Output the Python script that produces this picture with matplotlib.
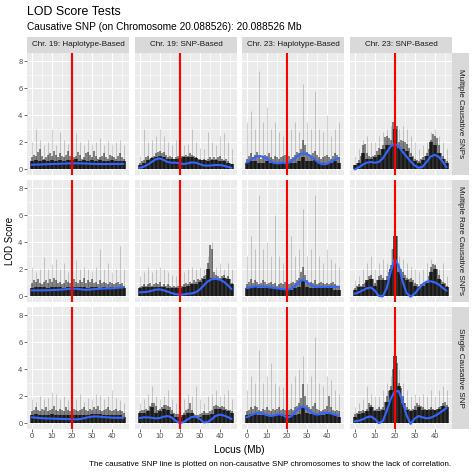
import matplotlib
matplotlib.use("Agg")
import matplotlib.pyplot as plt
from matplotlib.ticker import MultipleLocator

plt.rcParams['font.family'] = ['Liberation Sans', 'DejaVu Sans']

# ---------------- data ----------------
col_labels = ["Chr. 19: Haplotype-Based", "Chr. 19: SNP-Based",
              "Chr. 23: Haplotype-Based", "Chr. 23: SNP-Based"]
row_labels = ["Multiple Causative SNPs", "Multiple Rare Causative SNPs",
              "Single Causative SNP"]
causal_snp = 20.088526
x_ticks = [0, 10, 20, 30, 40]
y_ticks = [0, 2, 4, 6, 8]

smooth_x = list(range(0, 47, 2))     # loci (Mb) where smooth line was read
dense_x = list(range(0, 47))         # loci (Mb) of dense point bands
step2_x = list(range(0, 47, 2))      # loci (Mb) of core band / sparse tips

# smooth (loess) LOD values
smooth_r1c1 = [0.35,0.36,0.37,0.38,0.39,0.40,0.41,0.42,0.43,0.44,0.45,0.45,0.45,0.44,0.43,0.42,0.41,0.40,0.40,0.40,0.40,0.41,0.41,0.41]
smooth_r1c2 = [0.12,0.2,0.35,0.55,0.75,0.82,0.7,0.55,0.5,0.5,0.45,0.4,0.45,0.52,0.5,0.4,0.3,0.28,0.3,0.33,0.33,0.28,0.2,0.12]
smooth_r1c3 = [0.5,0.7,0.9,1.0,0.95,0.8,0.6,0.47,0.45,0.5,0.45,0.55,0.8,1.05,1.18,1.15,1.0,0.75,0.5,0.38,0.4,0.55,0.7,0.85]
smooth_r1c4 = [0.0,0.15,0.35,0.5,0.55,0.5,0.55,0.8,1.25,1.7,1.9,1.7,1.3,0.95,0.6,0.3,0.12,0.2,0.55,0.95,1.08,0.95,0.6,0.15]
smooth_r2c1 = [0.45,0.45,0.45,0.45,0.46,0.47,0.48,0.5,0.52,0.55,0.58,0.57,0.54,0.5,0.5,0.52,0.55,0.57,0.58,0.6,0.6,0.62,0.65,0.67]
smooth_r2c2 = [0.3,0.32,0.35,0.42,0.5,0.52,0.45,0.35,0.25,0.17,0.13,0.15,0.2,0.22,0.3,0.5,0.8,1.1,1.27,1.3,1.25,1.1,0.85,0.55]
smooth_r2c3 = [0.62,0.68,0.73,0.75,0.73,0.7,0.66,0.62,0.58,0.55,0.52,0.55,0.75,1.05,1.22,1.1,0.85,0.72,0.7,0.7,0.7,0.71,0.72,0.72]
smooth_r2c4 = [0.2,0.3,0.45,0.6,0.67,0.45,0.05,0.0,0.6,1.8,2.78,2.3,1.1,0.25,-0.02,0.2,0.55,0.9,1.1,1.12,1.05,0.9,0.65,0.42]
smooth_r3c1 = [0.45,0.43,0.4,0.38,0.37,0.36,0.35,0.34,0.33,0.32,0.32,0.3,0.32,0.38,0.45,0.5,0.52,0.5,0.47,0.45,0.43,0.42,0.42,0.42]
smooth_r3c2 = [0.4,0.45,0.45,0.42,0.38,0.4,0.5,0.55,0.45,0.2,0.02,0.1,0.3,0.48,0.5,0.35,0.08,0.1,0.3,0.55,0.65,0.6,0.48,0.33]
smooth_r3c3 = [0.45,0.6,0.72,0.78,0.72,0.62,0.55,0.6,0.68,0.62,0.45,0.5,0.8,1.1,1.25,1.1,0.85,0.68,0.66,0.75,0.8,0.75,0.65,0.57]
smooth_r3c4 = [0.15,0.2,0.3,0.45,0.52,0.35,0.02,0.15,0.9,1.8,2.35,2.4,1.6,0.6,-0.03,0.35,0.55,0.45,0.38,0.42,0.55,0.72,0.92,1.14]

# top of the solid black core of the point cloud (LOD) per 2 Mb
core_r1c1 = [0.6,0.7,0.6,0.7,0.6,0.7,0.6,0.7,0.6,0.7,0.7,0.8,0.6,0.7,0.6,0.7,0.6,0.7,0.6,0.6,0.7,0.6,0.6,0.6]
core_r1c2 = [0.35,0.45,0.7,0.85,0.95,1.0,0.95,0.8,0.75,0.8,0.85,0.9,0.9,0.9,0.85,0.7,0.7,0.65,0.7,0.7,0.65,0.6,0.5,0.4]
core_r1c3 = [0.5,0.6,0.6,0.5,0.5,0.6,0.5,0.5,0.5,0.5,0.5,0.5,0.5,0.6,0.9,0.6,0.6,0.7,0.5,0.5,0.5,0.5,0.6,0.5]
core_r1c4 = [0.3,0.5,1.2,0.8,0.8,0.9,1.1,1.5,1.8,1.8,3.0,1.6,1.5,1.4,0.9,0.6,0.5,0.7,1.0,2.0,1.8,1.2,0.8,0.5]
core_r2c1 = [0.6,0.7,0.7,0.7,0.6,0.7,0.7,0.7,0.6,0.7,0.7,0.7,0.7,0.7,0.6,0.7,0.7,0.6,0.7,0.6,0.7,0.6,0.6,0.6]
core_r2c2 = [0.6,0.7,0.7,0.7,0.7,0.7,0.7,0.6,0.6,0.6,0.6,0.7,0.8,0.9,0.9,1.1,1.3,2.0,1.4,1.3,1.3,1.4,1.3,0.9]
core_r2c3 = [0.6,0.7,0.7,0.6,0.6,0.6,0.6,0.6,0.6,0.5,0.5,0.5,0.6,0.7,1.2,0.7,0.6,0.6,0.6,0.6,0.6,0.6,0.5,0.5]
core_r2c4 = [0.5,0.7,0.7,1.2,1.3,0.8,1.2,1.2,1.2,2.0,4.5,1.8,1.4,1.2,1.1,0.8,0.7,0.8,1.0,1.8,2.0,1.3,0.9,0.7]
core_r3c1 = [0.6,0.7,0.6,0.6,0.6,0.7,0.6,0.6,0.6,0.6,0.6,0.6,0.6,0.6,0.6,0.7,0.7,0.7,0.6,0.6,0.6,0.6,0.6,0.5]
core_r3c2 = [0.8,0.8,0.9,1.2,0.8,0.9,1.1,1.0,0.7,0.5,0.5,0.6,0.8,0.8,0.5,0.5,0.6,0.6,0.7,1.1,1.1,1.0,0.9,0.8]
core_r3c3 = [0.6,0.7,0.7,0.6,0.6,0.6,0.6,0.6,0.6,0.6,0.6,0.6,0.6,0.7,1.2,0.8,0.7,0.7,0.6,0.6,0.7,0.7,0.6,0.5]
core_r3c4 = [0.5,0.7,0.8,0.9,1.2,0.9,0.9,1.0,1.6,2.5,5.0,2.8,1.5,1.0,0.9,1.0,1.2,1.0,1.0,1.0,1.0,1.1,1.3,1.2]

# upper edge of the dense point cloud (LOD) per 1 Mb
dense_r1c1 = [0.9,1.1,1.0,1.3,1.5,1.0,0.8,0.9,1.1,1.2,1.0,1.4,1.1,0.9,1.2,1.0,0.9,1.1,1.4,1.0,1.2,0.9,1.0,1.3,1.1,0.8,0.9,1.2,1.3,1.1,0.9,1.4,1.0,0.8,0.9,1.0,1.2,0.9,0.8,1.1,1.0,0.9,0.8,1.0,1.2,0.9,0.8]
dense_r1c2 = [0.5,0.6,0.7,0.9,1.0,0.8,0.9,1.0,1.2,1.3,1.4,1.2,1.3,1.1,0.9,1.0,0.9,0.8,0.9,1.0,1.1,1.0,1.0,1.1,1.0,1.2,1.1,1.0,0.9,0.8,0.8,0.7,0.8,0.7,0.8,0.9,0.8,0.9,0.8,0.9,1.0,0.8,0.7,0.8,0.6,0.5,0.4]
dense_r1c3 = [0.8,1.0,1.2,0.9,1.1,1.3,1.0,0.8,0.9,1.1,1.0,1.2,0.9,0.8,1.0,0.9,0.8,0.9,1.0,1.1,0.9,1.0,0.8,0.9,1.1,1.3,1.2,1.5,2.2,1.8,1.3,1.1,1.0,1.2,1.4,1.1,0.9,0.8,0.9,1.0,1.1,0.9,0.8,1.0,1.2,1.1,0.9]
dense_r1c4 = [0.3,0.5,0.7,1.0,1.8,1.9,1.2,1.0,0.9,1.0,1.1,1.4,1.6,1.5,1.8,2.4,2.5,2.3,2.2,3.5,4.4,3.2,2.0,2.2,2.1,2.0,1.9,1.6,1.2,1.0,0.8,0.7,0.6,0.8,0.9,1.0,1.2,1.5,2.2,2.6,2.5,2.3,1.8,1.2,1.0,0.8,0.6]
dense_r2c1 = [1.0,1.2,1.1,1.3,1.0,0.9,1.1,1.2,1.0,1.3,1.1,1.4,1.2,1.0,1.1,0.9,1.0,1.2,1.1,1.0,1.2,1.3,1.1,1.0,1.2,1.1,1.4,1.0,1.2,1.1,1.3,1.0,1.1,0.9,1.2,1.0,1.1,1.0,0.9,1.1,1.0,0.9,1.0,1.1,0.9,1.0,0.8]
dense_r2c2 = [0.7,0.8,0.9,0.8,0.9,1.0,0.8,0.9,1.0,0.9,1.1,0.8,0.9,0.8,0.9,0.8,0.7,0.8,0.7,0.8,0.7,0.8,0.9,1.0,0.9,1.1,1.0,1.2,1.1,1.3,1.2,1.4,1.5,1.6,2.5,3.8,3.5,1.8,1.6,1.5,1.4,1.5,1.6,1.4,1.5,1.3,1.0]
dense_r2c3 = [0.9,1.1,1.3,1.0,1.2,1.1,0.9,1.0,1.2,1.1,0.9,1.0,1.1,0.9,1.0,0.8,0.9,1.0,0.9,1.1,0.8,0.9,1.0,1.1,1.0,1.2,1.4,1.8,2.2,1.6,1.2,1.0,1.1,1.0,1.2,0.9,1.0,1.1,1.0,0.9,1.0,0.9,1.0,1.1,0.9,0.8,0.8]
dense_r2c4 = [0.6,0.8,0.9,0.8,0.9,1.0,1.1,1.5,1.6,1.3,1.0,1.2,1.5,1.6,1.4,1.2,1.5,1.8,2.3,3.5,6.0,4.5,2.2,2.0,1.8,1.6,1.4,1.3,1.4,1.2,1.0,0.9,0.8,0.9,1.0,1.0,1.1,1.5,2.2,2.4,2.3,2.0,1.6,1.2,1.1,1.0,0.8]
dense_r3c1 = [0.9,1.0,1.2,1.0,0.9,1.1,1.0,1.2,0.9,1.0,1.1,1.3,1.0,0.9,1.1,1.0,0.9,1.2,1.0,0.9,1.0,1.1,1.0,0.9,1.0,1.1,1.2,1.0,0.9,1.1,1.0,1.2,1.1,1.3,1.0,0.9,1.0,1.1,1.2,1.0,0.9,1.0,1.1,0.9,1.0,0.9,0.8]
dense_r3c2 = [0.9,1.0,1.0,1.1,1.0,1.3,1.5,1.5,1.3,1.0,1.1,1.2,1.4,1.4,1.3,1.2,1.0,0.8,0.7,0.7,0.6,0.6,0.8,1.0,1.1,1.5,1.0,0.7,0.6,0.6,0.7,0.8,0.9,0.8,0.8,0.9,1.0,1.3,1.4,1.3,1.2,1.3,1.2,1.1,1.0,1.0,0.9]
dense_r3c3 = [0.9,1.0,1.2,1.1,1.3,1.2,1.0,0.9,1.1,1.0,1.2,1.0,0.9,1.1,1.0,1.1,1.2,1.0,1.1,1.0,0.9,1.0,1.1,1.0,1.2,1.3,1.5,1.9,2.9,2.0,1.4,1.2,1.1,1.3,1.5,1.1,1.0,0.9,1.0,1.1,1.3,2.0,1.2,1.0,0.9,1.0,0.9]
dense_r3c4 = [0.7,0.8,0.9,0.9,1.0,0.9,1.1,1.5,1.4,1.2,1.0,1.1,1.2,1.1,1.2,1.6,2.0,2.4,2.8,4.0,6.0,4.5,3.0,2.6,2.0,1.5,1.2,1.1,1.0,1.1,1.3,1.5,1.4,1.3,1.2,1.1,1.0,1.1,1.2,1.1,1.0,1.1,1.2,1.3,1.5,1.6,1.4]

# highest scattered points (LOD) per 2 Mb
sparse_r1c1 = [2.0,3.0,2.2,1.8,2.0,3.0,1.8,2.8,2.2,1.9,2.0,2.7,2.0,1.8,2.2,1.9,2.0,2.3,1.8,2.1,1.9,2.0,2.2,1.8]
sparse_r1c2 = [1.0,3.0,2.0,2.2,2.5,3.0,2.5,2.0,1.8,2.2,2.5,1.8,1.9,3.0,2.0,1.6,1.5,2.8,2.0,1.8,2.5,2.7,2.0,1.5]
sparse_r1c3 = [3.5,4.3,3.0,7.3,3.5,4.6,3.0,3.5,2.8,2.5,2.5,3.0,3.5,2.8,6.3,3.5,3.0,5.8,3.0,2.8,4.0,2.5,3.0,3.5]
sparse_r1c4 = [1.0,1.5,2.2,2.5,2.0,2.0,2.5,2.8,3.0,3.2,5.0,3.0,3.2,3.0,2.5,2.0,1.5,1.8,2.0,2.8,3.0,2.5,2.0,1.5]
sparse_r2c1 = [2.2,1.8,2.0,2.9,2.0,2.4,2.8,2.0,2.5,1.8,2.0,2.7,2.0,2.2,2.0,1.9,2.2,3.5,2.0,2.5,1.8,2.0,3.7,2.0]
sparse_r2c2 = [1.5,1.8,2.2,1.8,2.0,2.2,2.0,1.8,1.6,1.5,1.5,1.8,2.0,2.2,2.0,2.2,2.0,3.0,4.0,2.2,2.5,2.0,2.5,2.0]
sparse_r2c3 = [3.0,4.5,3.5,7.5,3.5,4.0,3.0,6.0,3.0,2.5,2.5,4.5,3.0,3.5,6.5,3.0,3.5,7.5,3.0,2.5,3.5,2.8,2.5,2.2]
sparse_r2c4 = [1.2,1.5,2.0,2.5,3.0,2.0,2.5,2.8,2.5,3.5,6.5,3.0,2.8,2.5,2.2,2.0,1.8,2.0,2.5,2.8,2.5,2.0,2.5,1.5]
sparse_r3c1 = [1.8,1.6,2.0,1.8,1.9,2.3,2.2,1.8,2.0,1.7,2.0,1.8,2.2,1.6,1.9,1.8,2.2,2.1,1.8,2.0,2.5,1.9,1.7,1.5]
sparse_r3c2 = [1.5,1.8,2.2,2.8,2.0,1.8,2.0,2.5,1.8,1.5,1.3,1.8,2.2,2.0,2.8,1.8,1.5,2.0,2.2,2.5,2.0,2.2,2.5,1.8]
sparse_r3c3 = [2.5,3.5,3.0,5.4,3.0,3.5,4.5,3.0,2.8,2.7,2.5,3.0,3.5,4.0,5.0,3.0,3.5,6.4,3.0,2.8,3.5,3.2,2.5,2.2]
sparse_r3c4 = [1.2,1.5,1.8,2.8,2.2,2.0,2.0,2.5,3.0,3.5,8.0,4.0,3.0,2.5,2.0,2.2,2.0,2.2,2.0,2.5,2.0,2.5,2.8,2.5]

smooth_rows = [[smooth_r1c1, smooth_r1c2, smooth_r1c3, smooth_r1c4],
               [smooth_r2c1, smooth_r2c2, smooth_r2c3, smooth_r2c4],
               [smooth_r3c1, smooth_r3c2, smooth_r3c3, smooth_r3c4]]
core_rows = [[core_r1c1, core_r1c2, core_r1c3, core_r1c4],
             [core_r2c1, core_r2c2, core_r2c3, core_r2c4],
             [core_r3c1, core_r3c2, core_r3c3, core_r3c4]]
dense_rows = [[dense_r1c1, dense_r1c2, dense_r1c3, dense_r1c4],
              [dense_r2c1, dense_r2c2, dense_r2c3, dense_r2c4],
              [dense_r3c1, dense_r3c2, dense_r3c3, dense_r3c4]]
sparse_rows = [[sparse_r1c1, sparse_r1c2, sparse_r1c3, sparse_r1c4],
               [sparse_r2c1, sparse_r2c2, sparse_r2c3, sparse_r2c4],
               [sparse_r3c1, sparse_r3c2, sparse_r3c3, sparse_r3c4]]

# ---------------- layout ----------------
W = H = 474
fig = plt.figure(figsize=(W / 100, H / 100), dpi=100)
fig.patch.set_facecolor('white')

def box(x, y, w, h):
    return [x / W, 1 - (y + h) / H, w / W, h / H]

col_left = [27, 135, 242, 350]
row_top = [53, 180, 307]
pw, ph = 102, 122
strip_h = 16
strip_w = 17

xlim = (-2.35, 48.75)
ylim = (-0.41, 8.61)

for r in range(3):
    for c in range(4):
        ax = fig.add_axes(box(col_left[c], row_top[r], pw, ph))
        ax.set_facecolor('#EBEBEB')
        for s in ax.spines.values():
            s.set_visible(False)
        ax.set_xlim(*xlim)
        ax.set_ylim(*ylim)
        ax.set_xticks(x_ticks)
        ax.set_yticks(y_ticks)
        ax.xaxis.set_minor_locator(MultipleLocator(5))
        ax.yaxis.set_minor_locator(MultipleLocator(1))
        ax.grid(True, which='major', color='white', lw=0.75)
        ax.grid(True, which='minor', color='white', lw=0.4)
        ax.set_axisbelow(True)
        ax.tick_params(which='minor', length=0)
        ax.tick_params(which='major', length=2, width=0.5, color='#333333',
                       labelsize=5.4, labelcolor='#4D4D4D', pad=1.2)
        if c != 0:
            ax.tick_params(axis='y', length=0, labelleft=False)
        if r != 2:
            ax.tick_params(axis='x', length=0, labelbottom=False)

        ax.vlines(step2_x, 0, sparse_rows[r][c], color='black', alpha=0.25, lw=0.5, zorder=2)
        ax.vlines(dense_x, 0, dense_rows[r][c], color='black', alpha=0.5, lw=1.3, zorder=2)
        ax.vlines(step2_x, 0, core_rows[r][c], color='#0d0d0d', alpha=0.88, lw=2.6, zorder=2)
        ax.plot(smooth_x, smooth_rows[r][c], color='#3366FF', lw=1.5, zorder=3,
                solid_capstyle='round', solid_joinstyle='round')
        ax.axvline(causal_snp, color='red', lw=1.5, zorder=4)

# top strips
for c in range(4):
    sax = fig.add_axes(box(col_left[c], row_top[0] - strip_h, pw, strip_h))
    sax.set_facecolor('#D9D9D9')
    sax.set_xticks([]); sax.set_yticks([])
    for s in sax.spines.values():
        s.set_visible(False)
    sax.text(0.5, 0.5, col_labels[c], ha='center', va='center', fontsize=5.9,
             color='#1A1A1A', transform=sax.transAxes)

# right strips
for r in range(3):
    sax = fig.add_axes(box(col_left[3] + pw, row_top[r], strip_w, ph))
    sax.set_facecolor('#D9D9D9')
    sax.set_xticks([]); sax.set_yticks([])
    for s in sax.spines.values():
        s.set_visible(False)
    sax.text(0.5, 0.5, row_labels[r], ha='center', va='center', fontsize=5.9,
             color='#1A1A1A', rotation=-90, transform=sax.transAxes)

# titles and labels
fig.text(27 / W, 1 - 15 / H, "LOD Score Tests", fontsize=8.9, color='black',
         ha='left', va='baseline')
fig.text(27 / W, 1 - 29.5 / H, "Causative SNP (on Chromosome 20.088526): 20.088526 Mb",
         fontsize=7.3, color='black', ha='left', va='baseline')
fig.text(10 / W, 1 - 241 / H, "LOD Score", fontsize=7.0, rotation=90,
         ha='center', va='center')
fig.text(239.5 / W, 1 - 450 / H, "Locus (Mb)", fontsize=7.3, ha='center', va='center')
fig.text(451 / W, 1 - 464 / H,
         "The causative SNP line is plotted on non-causative SNP chromosomes to show the lack of correlation.",
         fontsize=5.8, ha='right', va='center')

fig.savefig('out.png', dpi=100)
